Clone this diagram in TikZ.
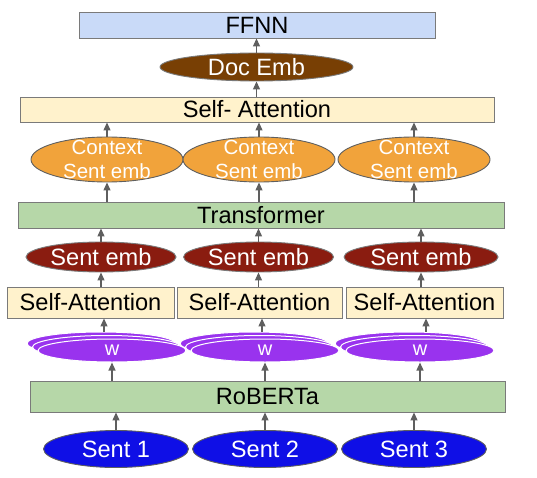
\documentclass[tikz,border=0pt]{standalone}
\usepackage{fontspec}
\setmainfont{Liberation Sans}
\usetikzlibrary{shapes.geometric,arrows.meta}
\definecolor{ffblue}{HTML}{C9DAF8}
\definecolor{docbrown}{HTML}{783F04}
\definecolor{attyellow}{HTML}{FFF2CC}
\definecolor{ctxorange}{HTML}{F1A33B}
\definecolor{tgreen}{HTML}{B6D7A8}
\definecolor{sred}{HTML}{8A1C10}
\definecolor{wpurple}{HTML}{9933EE}
\definecolor{sblue}{HTML}{0F0FE6}
\definecolor{edgegray}{HTML}{7A7A7A}
\definecolor{arrgray}{HTML}{5F5F5F}
\begin{document}
\begin{tikzpicture}[x=1pt,y=-1pt,>={Triangle[length=8pt,width=7pt]},
    every node/.style={font=\fontsize{23.6}{26}\selectfont},
    box/.style={draw=edgegray,line width=0.9pt,minimum height=26,inner sep=0},
    ell/.style={ellipse,draw=edgegray,line width=0.9pt,inner sep=0,text=white},
    ctxtext/.style={align=center,text=white,inner sep=0,font=\fontsize{20.5}{24}\selectfont},
    wstack/.style={ellipse,draw=white,line width=1pt,fill=wpurple,minimum width=148,minimum height=23,inner sep=0,
        text=white,font=\fontsize{20}{24}\selectfont},
    arr/.style={->,draw=arrgray,line width=1.2pt}]
    \useasboundingbox (0,0) rectangle (537,478);
    % top
    \node[box,fill=ffblue,minimum width=356] (ffnn) at (257,25) {FFNN};
    \node[ell,fill=docbrown,minimum width=193,minimum height=28] (doc) at (256.5,67) {Doc Emb};
    \node[box,fill=attyellow,minimum width=474,minimum height=25] (att) at (257,109.5) {Self- Attention};
    % context sentence embeddings
    \node[ell,fill=ctxorange,draw=arrgray,minimum width=152,minimum height=45] (c1) at (107,159.5) {};
    \node[ctxtext] (c1t) at (c1) {Context\\Sent emb};
    \node[ell,fill=ctxorange,draw=arrgray,minimum width=152,minimum height=45] (c2) at (259,159.5) {};
    \node[ctxtext] (c2t) at (c2) {Context\\Sent emb};
    \node[ell,fill=ctxorange,draw=arrgray,minimum width=152,minimum height=45] (c3) at (414,159.5) {};
    \node[ctxtext] (c3t) at (c3) {Context\\Sent emb};
    \node[box,fill=tgreen,minimum width=486] (trans) at (261,215) {Transformer};
    % sentence embeddings
    \node[ell,fill=sred,minimum width=150,minimum height=30] (se1) at (101,257) {Sent emb};
    \node[ell,fill=sred,minimum width=150,minimum height=30] (se2) at (258.5,257) {Sent emb};
    \node[ell,fill=sred,minimum width=154,minimum height=30] (se3) at (421,257) {Sent emb};
    \node[box,fill=attyellow,minimum width=167,minimum height=31] (sa1) at (90.5,302.5) {Self-Attention};
    \node[box,fill=attyellow,minimum width=165,minimum height=31] (sa2) at (259.5,302.5) {Self-Attention};
    \node[box,fill=attyellow,minimum width=157,minimum height=31] (sa3) at (424.5,302.5) {Self-Attention};
    % word vectors
    \node[wstack] (w1a) at (101,343.5) {};
    \node[wstack] (w1b) at (106.5,347) {};
    \node[wstack] (w1) at (112,350.5) {w};
    \node[wstack] (w2a) at (254,343.5) {};
    \node[wstack] (w2b) at (259.5,347) {};
    \node[wstack] (w2) at (265,350.5) {w};
    \node[wstack] (w3a) at (409,343.5) {};
    \node[wstack] (w3b) at (414.5,347) {};
    \node[wstack] (w3) at (420,350.5) {w};
    % input
    \node[box,fill=tgreen,minimum width=475,minimum height=31] (rob) at (267.5,396.5) {RoBERTa};
    \node[ell,fill=sblue,draw=arrgray,minimum width=145,minimum height=37] (s1) at (116,449) {Sent 1};
    \node[ell,fill=sblue,draw=arrgray,minimum width=145,minimum height=37] (s2) at (265,449) {Sent 2};
    \node[ell,fill=sblue,draw=arrgray,minimum width=145,minimum height=37] (s3) at (414,449) {Sent 3};
    % arrows
    \draw[arr] (s1) -- (s1 |- rob.south);
    \draw[arr] (s2) -- (s2 |- rob.south);
    \draw[arr] (s3) -- (s3 |- rob.south);
    \draw[arr] (rob.north -| w1) -- (w1);
    \draw[arr] (rob.north -| w2) -- (w2);
    \draw[arr] (rob.north -| w3) -- (w3);
    \draw[arr] ([xshift=3]w1a.north) -- ([xshift=3]w1a.north |- sa1.south);
    \draw[arr] ([xshift=8]w2a.north) -- ([xshift=8]w2a.north |- sa2.south);
    \draw[arr] ([xshift=17]w3a.north) -- ([xshift=17]w3a.north |- sa3.south);
    \draw[arr] (sa1.north -| se1) -- (se1);
    \draw[arr] (sa2.north -| se2) -- (se2);
    \draw[arr] (sa3.north -| se3) -- (se3);
    \draw[arr] (se1) -- (se1 |- trans.south);
    \draw[arr] (se2) -- (se2 |- trans.south);
    \draw[arr] (se3) -- (se3 |- trans.south);
    \draw[arr] (trans.north -| c1) -- (c1);
    \draw[arr] (trans.north -| c2) -- (c2);
    \draw[arr] (trans.north -| c3) -- (c3);
    \draw[arr] (c1) -- (c1 |- att.south);
    \draw[arr] (c2) -- (c2 |- att.south);
    \draw[arr] (c3) -- (c3 |- att.south);
    \draw[arr] (att.north -| doc) -- (doc);
    \draw[arr] (doc) -- (doc |- ffnn.south);
\end{tikzpicture}
\end{document}
